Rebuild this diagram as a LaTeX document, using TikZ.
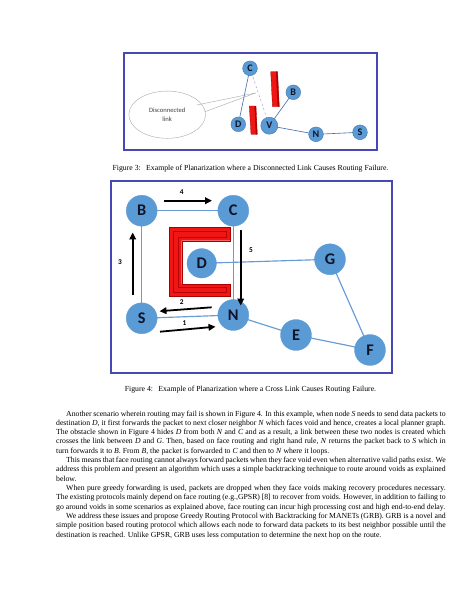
\documentclass[tikz,border=0pt]{standalone}
\usepackage{fontspec}
\setmainfont{Liberation Serif}
\newfontfamily\calib{Carlito}
\usetikzlibrary{arrows.meta,shapes.geometric}
\definecolor{framec}{RGB}{72,72,180}
\definecolor{nodefill}{RGB}{91,155,213}
\definecolor{nodeedge}{RGB}{70,120,170}
\definecolor{edgefour}{RGB}{105,155,212}
\definecolor{edgethree}{RGB}{70,110,170}
\definecolor{obred}{RGB}{240,22,22}
\definecolor{obdark}{RGB}{170,0,0}
\definecolor{dashc}{RGB}{200,170,222}
\definecolor{lettc}{RGB}{15,20,40}
\tikzset{
  smallnode/.style={circle,fill=nodefill,draw=nodeedge,line width=0.5pt,minimum size=19pt,inner sep=0pt,font=\calib\fontsize{13}{13}\selectfont\bfseries,text=lettc},
  bignode/.style={circle,fill=nodefill,draw=nodefill,minimum size=40pt,inner sep=0pt,font=\calib\fontsize{21}{21}\selectfont\bfseries,text=lettc},
  edgethin/.style={draw=edgethree,line width=0.8pt},
  edgewide/.style={draw=edgefour,line width=1.5pt},
  framebox/.style={draw=framec,line width=2pt},
  walkarrow/.style={line width=2.3pt,-{Triangle[length=9pt,width=8.5pt]}},
  steplabel/.style={font=\calib\fontsize{9.5}{9.5}\selectfont\bfseries,inner sep=0pt},
  bodyline/.style={anchor=base west,inner sep=0pt,font=\fontsize{10}{12}\selectfont},
  captionline/.style={anchor=base,inner sep=0pt,font=\fontsize{10}{12}\selectfont}
}
\begin{document}
\begin{tikzpicture}[x=1.29114pt,y=-1.29114pt]
\path[use as bounding box,fill=white] (0,0) rectangle (474,613);

% ---------------- Figure 3 ----------------
\draw[framebox] (124,53) rectangle (377,150);
% obstacles
\fill[obred] (270.7,71.7) -- (277,71.7) -- (279.3,106.7) -- (272.5,106.7) -- cycle;
\fill[obdark] (276,71.7) -- (277.6,71.7) -- (279.3,106.7) -- (277.6,106.7) -- cycle;
\draw[obdark,line width=0.4pt] (270.7,71.7) -- (277.6,71.7) -- (279.3,106.7) -- (272.5,106.7) -- cycle;
\fill[obred] (249.3,106) -- (255.5,106) -- (257.3,134.3) -- (251,134.3) -- cycle;
\fill[obdark] (254.5,106) -- (256,106) -- (257.3,134.3) -- (255.8,134.3) -- cycle;
\draw[obdark,line width=0.4pt] (249.3,106) -- (256,106) -- (257.3,134.3) -- (251,134.3) -- cycle;
% callout
\node[ellipse,draw=gray!70,line width=0.5pt,fill=white,minimum width=99pt,minimum height=61pt,inner sep=0pt,align=center,font=\calib\fontsize{8.5}{10.5}\selectfont,text=black!75] (callout) at (167.2,114.7) {Disconnected\\link};
\coordinate (tip) at (255.5,93);
\draw[gray!70,line width=0.5pt] (196.7,105) -- (tip);
\draw[gray!70,line width=0.5pt] (205,111.7) -- (tip);
% node positions
\coordinate (c3p) at (250,68.3);
\coordinate (b3p) at (293.3,92.3);
\coordinate (d3p) at (238.3,124.3);
\coordinate (v3p) at (269.3,125.7);
\coordinate (n3p) at (316,134.3);
\coordinate (s3p) at (360,132.3);
\draw[edgethin] (c3p) -- (d3p);
\draw[dashc,line width=0.8pt,dashed] (c3p) -- (v3p);
\draw[edgethin] (v3p) -- (b3p);
\draw[edgethin] (v3p) -- (n3p);
\draw[edgethin] (n3p) -- (s3p);
\node[smallnode] (c3) at (c3p) {C};
\node[smallnode] (b3) at (b3p) {B};
\node[smallnode] (d3) at (d3p) {D};
\node[smallnode,minimum size=22pt] (v3) at (v3p) {V};
\node[smallnode] (n3) at (n3p) {N};
\node[smallnode] (s3) at (s3p) {S};

\node[captionline] (cap3) at (250.5,170) {Figure 3:\hspace{0.7em}Example of Planarization where a Disconnected Link Causes Routing Failure.};

% ---------------- Figure 4 ----------------
\draw[framebox] (111,181) rectangle (392,373);
% obstacle C shape
\fill[obred,draw=obdark,line width=0.5pt] (169.3,227.3) -- (230,227.3) -- (230,240.7) -- (181.7,240.7) -- (181.7,284) -- (230,284) -- (230,296) -- (169.3,296) -- cycle;
\draw[obdark!80!obred,line width=0.5pt] (173,231) -- (226.5,231) -- (226.5,237.2) -- (178.2,237.2) -- (178.2,287.5) -- (226.5,287.5) -- (226.5,292.5) -- (173,292.5) -- cycle;
% edges
\coordinate (bpos) at (141.7,210.7);
\coordinate (cpos) at (233.3,210.7);
\coordinate (dpos) at (201.7,263.3);
\coordinate (gpos) at (330,259.3);
\coordinate (spos) at (141.7,318.3);
\coordinate (npos) at (233.3,315);
\coordinate (epos) at (296,335);
\coordinate (fpos) at (370,350);
\draw[edgewide] (bpos) -- (cpos);
\draw[edgewide] (bpos) -- (spos);
\draw[edgewide] (cpos) -- (npos);
\draw[edgewide] (spos) -- (npos);
\draw[edgewide] (dpos) -- (gpos);
\draw[edgewide] (gpos) -- (fpos);
\draw[edgewide] (npos) -- (epos);
\draw[edgewide] (epos) -- (fpos);
% nodes
\node[bignode] (b4) at (bpos) {B};
\node[bignode] (c4) at (cpos) {C};
\node[bignode,minimum size=38pt] (d4) at (dpos) {D};
\node[bignode] (g4) at (gpos) {G};
\node[bignode] (s4) at (spos) {S};
\node[bignode] (n4) at (npos) {N};
\node[bignode] (e4) at (epos) {E};
\node[bignode] (f4) at (fpos) {F};
% walk arrows
\coordinate (a4s) at (164.3,200.7); \coordinate (a4e) at (212,200.7);
\coordinate (a5s) at (240.7,230); \coordinate (a5e) at (240.7,305.5);
\coordinate (a3s) at (132.7,295); \coordinate (a3e) at (132.7,232.5);
\coordinate (a2s) at (211.7,307.3); \coordinate (a2e) at (159.5,311.2);
\coordinate (a1s) at (160,331.7); \coordinate (a1e) at (215.5,326.7);
\draw[walkarrow] (a4s) -- (a4e);
\draw[walkarrow] (a5s) -- (a5e);
\draw[walkarrow] (a3s) -- (a3e);
\draw[walkarrow] (a2s) -- (a2e);
\draw[walkarrow] (a1s) -- (a1e);
\node[steplabel] (l4) at (181.7,192) {4};
\node[steplabel] (l5) at (251,250) {5};
\node[steplabel] (l3) at (120,261.7) {3};
\node[steplabel] (l2) at (181.7,302.5) {2};
\node[steplabel] (l1) at (184.5,323.5) {1};

\node[captionline] (cap4) at (250.5,391) {Figure 4:\hspace{0.7em}Example of Planarization where a Cross Link Causes Routing Failure.};

% ---------------- Body text ----------------
\node[bodyline] (t1) at (56,416) {\makebox[503pt][s]{\hspace*{13pt}Another scenario wherein routing may fail is shown in Figure 4. In this example, when node \textit{S} needs to send data packets to}};
\node[bodyline] (t2) at (56,425.3) {\makebox[503pt][s]{destination \textit{D}, it first forwards the packet to next closer neighbor \textit{N} which faces void and hence, creates a local planner graph.}};
\node[bodyline] (t3) at (56,434.6) {\makebox[503pt][s]{The obstacle shown in Figure 4 hides \textit{D} from both \textit{N} and \textit{C} and as a result, a link between these two nodes is created which}};
\node[bodyline] (t4) at (56,443.9) {\makebox[503pt][s]{crosses the link between \textit{D} and \textit{G}. Then, based on face routing and right hand rule, \textit{N} returns the packet back to \textit{S} which in}};
\node[bodyline] (t5) at (56,453.2) {turn forwards it to \textit{B}. From \textit{B}, the packet is forwarded to \textit{C} and then to \textit{N} where it loops.};
\node[bodyline] (t6) at (56,462.6) {\makebox[503pt][s]{\hspace*{13pt}This means that face routing cannot always forward packets when they face void even when alternative valid paths exist. We}};
\node[bodyline] (t7) at (56,471.9) {\makebox[503pt][s]{address this problem and present an algorithm which uses a simple backtracking technique to route around voids as explained}};
\node[bodyline] (t8) at (56,481.2) {below.};
\node[bodyline] (t9) at (56,490.5) {\makebox[503pt][s]{\hspace*{13pt}When pure greedy forwarding is used, packets are dropped when they face voids making recovery procedures necessary.}};
\node[bodyline] (t10) at (56,499.8) {\makebox[503pt][s]{The existing protocols mainly depend on face routing (e.g.,GPSR) [8] to recover from voids. However, in addition to failing to}};
\node[bodyline] (t11) at (56,509.1) {go around voids in some scenarios as explained above, face routing can incur high processing cost and high end-to-end delay.};
\node[bodyline] (t12) at (56,518.4) {\makebox[503pt][s]{\hspace*{13pt}We address these issues and propose Greedy Routing Protocol with Backtracking for MANETs (GRB). GRB is a novel and}};
\node[bodyline] (t13) at (56,527.7) {\makebox[503pt][s]{simple position based routing protocol which allows each node to forward data packets to its best neighbor possible until the}};
\node[bodyline] (t14) at (56,537) {destination is reached. Unlike GPSR, GRB uses less computation to determine the next hop on the route.};
\end{tikzpicture}
\end{document}
